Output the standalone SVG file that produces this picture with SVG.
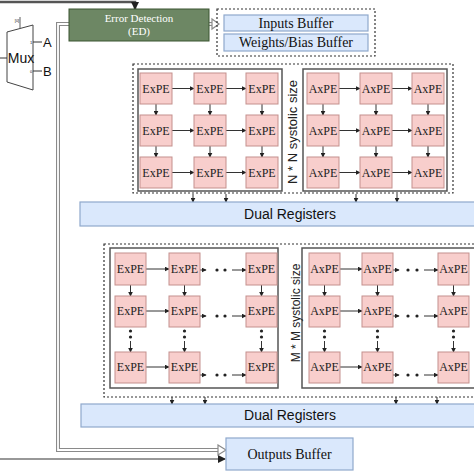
<svg xmlns="http://www.w3.org/2000/svg" width="474" height="474" viewBox="0 0 474 474">
<defs>
<style>
.pe{fill:#f8cecc;stroke:#c4908d;stroke-width:1}
.pet{font-family:"Liberation Serif",serif;font-size:12px;fill:#222;text-anchor:middle}
.buf{fill:#dae8fc;stroke:#8fa8cc;stroke-width:1.2}
.buft{font-family:"Liberation Serif",serif;font-size:14px;fill:#111;text-anchor:middle}
.dr{font-family:"Liberation Sans",sans-serif;font-size:14px;fill:#111;text-anchor:middle}
.dash{fill:none;stroke:#333;stroke-width:1.2;stroke-dasharray:2,2}
.inner{fill:#fff;stroke:#555;stroke-width:1.5}
.ar{fill:none;stroke:#333;stroke-width:1;marker-end:url(#ah)}
.dot{fill:#222}
.dbo{fill:none;stroke:#8a8a8a;stroke-width:4}
.dbi{fill:none;stroke:#fff;stroke-width:1.8}
.rot{font-family:"Liberation Sans",sans-serif;fill:#222;text-anchor:middle}
.sans{font-family:"Liberation Sans",sans-serif;fill:#111}
</style>
<marker id="ah" viewBox="0 0 8 8" refX="7" refY="4" markerWidth="5" markerHeight="5" orient="auto" markerUnits="userSpaceOnUse">
<path d="M0,0 L8,4 L0,8 z" fill="#222"/>
</marker>
<marker id="ahb" viewBox="0 0 8 8" refX="7" refY="4" markerWidth="8" markerHeight="8" orient="auto" markerUnits="userSpaceOnUse">
<path d="M0,0 L8,4 L0,8 z" fill="#222"/>
</marker>
</defs>

<!-- Mux -->
<g id="mux">
<path d="M7,32 L33,25 L33,90 L7,82 Z" fill="#fff" stroke="#444" stroke-width="1"/>
<line x1="0" y1="58" x2="7" y2="58" stroke="#333" stroke-width="1"/>
<line x1="20" y1="17" x2="20" y2="28" stroke="#333" stroke-width="0.8"/>
<text x="17" y="22" class="sans" font-size="4" text-anchor="middle">[0]</text>
<text x="30" y="44" class="sans" font-size="4">1</text>
<text x="30" y="73" class="sans" font-size="4">0</text>
<line x1="33" y1="42" x2="42" y2="42" stroke="#333" stroke-width="1"/>
<line x1="33" y1="71" x2="42" y2="71" stroke="#333" stroke-width="1"/>
<text x="21" y="63" class="sans" font-size="14" text-anchor="middle">Mux</text>
<text x="43" y="47" class="sans" font-size="13">A</text>
<text x="43" y="76" class="sans" font-size="13">B</text>
</g>

<!-- Connectors -->
<g id="connectors">
<path d="M0,2 L135,2 L135,9" fill="none" stroke="#555" stroke-width="2.5" marker-end="url(#ahb)"/>
<path d="M0,459 L225,459" fill="none" stroke="#333" stroke-width="1.2" marker-end="url(#ahb)"/>
<!-- double line ED to outputs -->
<path class="dbo" d="M69,24 L58,24 L58,450 L219,450"/>
<path class="dbi" d="M70,24 L58,24 L58,450 L219,450"/>
<path d="M218,445 L226,450 L218,455 Z" fill="#fff" stroke="#8a8a8a" stroke-width="1.2"/>
<!-- double line ED to buffers -->
<path class="dbo" d="M209,24 L212,24"/>
<path class="dbi" d="M208,24 L213,24"/>
<path d="M212,19 L219,24 L212,29 Z" fill="#fff" stroke="#8a8a8a" stroke-width="1.2"/>
<!-- NxN to dual registers -->
<line class="ar" x1="193" y1="194" x2="193" y2="202"/>
<line class="ar" x1="226" y1="194" x2="226" y2="202"/>
<line class="ar" x1="356" y1="194" x2="356" y2="202"/>
<line class="ar" x1="397" y1="194" x2="397" y2="202"/>
<!-- MxM to dual registers -->
<line class="ar" x1="172" y1="397" x2="172" y2="404"/>
<line class="ar" x1="205" y1="397" x2="205" y2="404"/>
<line class="ar" x1="396" y1="397" x2="396" y2="404"/>
<line class="ar" x1="437" y1="397" x2="437" y2="404"/>
</g>

<!-- Error detection -->
<g id="ed">
<rect x="69" y="9" width="140" height="32" fill="#6d8764" stroke="#3a5431" stroke-width="1"/>
<text x="139" y="22" font-family="Liberation Serif,serif" font-size="11" fill="#fff" text-anchor="middle">Error Detection</text>
<text x="139" y="35" font-family="Liberation Serif,serif" font-size="11" fill="#fff" text-anchor="middle">(ED)</text>
</g>

<!-- Buffers -->
<g id="buffers">
<rect class="dash" x="217" y="9" width="158" height="47"/>
<rect class="buf" x="224" y="15" width="144" height="16"/>
<text class="buft" x="296" y="28">Inputs Buffer</text>
<rect class="buf" x="224" y="34" width="144" height="17"/>
<text class="buft" x="296" y="47">Weights/Bias Buffer</text>
</g>

<!-- NxN systolic -->
<g id="nxn">
<rect class="dash" x="133" y="64" width="320" height="129"/>
<rect class="inner" x="138" y="69" width="144" height="122"/>
<rect class="inner" x="303" y="69" width="144" height="122"/>
<text class="rot" font-size="13" transform="translate(297,132) rotate(-90)">N * N systolic size</text>
<!-- ExPE arrows -->
<line class="ar" x1="172" y1="88.5" x2="194" y2="88.5"/>
<line class="ar" x1="226" y1="88.5" x2="246" y2="88.5"/>
<line class="ar" x1="172" y1="130.5" x2="194" y2="130.5"/>
<line class="ar" x1="226" y1="130.5" x2="246" y2="130.5"/>
<line class="ar" x1="172" y1="172.5" x2="194" y2="172.5"/>
<line class="ar" x1="226" y1="172.5" x2="246" y2="172.5"/>
<line class="ar" x1="156" y1="104" x2="156" y2="115"/>
<line class="ar" x1="210" y1="104" x2="210" y2="115"/>
<line class="ar" x1="262" y1="104" x2="262" y2="115"/>
<line class="ar" x1="156" y1="146" x2="156" y2="157"/>
<line class="ar" x1="210" y1="146" x2="210" y2="157"/>
<line class="ar" x1="262" y1="146" x2="262" y2="157"/>
<!-- AxPE arrows -->
<line class="ar" x1="339" y1="88.5" x2="360" y2="88.5"/>
<line class="ar" x1="392" y1="88.5" x2="412" y2="88.5"/>
<line class="ar" x1="339" y1="130.5" x2="360" y2="130.5"/>
<line class="ar" x1="392" y1="130.5" x2="412" y2="130.5"/>
<line class="ar" x1="339" y1="172.5" x2="360" y2="172.5"/>
<line class="ar" x1="392" y1="172.5" x2="412" y2="172.5"/>
<line class="ar" x1="323" y1="104" x2="323" y2="115"/>
<line class="ar" x1="376" y1="104" x2="376" y2="115"/>
<line class="ar" x1="428" y1="104" x2="428" y2="115"/>
<line class="ar" x1="323" y1="146" x2="323" y2="157"/>
<line class="ar" x1="376" y1="146" x2="376" y2="157"/>
<line class="ar" x1="428" y1="146" x2="428" y2="157"/>
</g>
<g id="nxn-expe">
<rect class="pe" x="140" y="73" width="32" height="31"/><text class="pet" x="156" y="93">ExPE</text>
<rect class="pe" x="194" y="73" width="32" height="31"/><text class="pet" x="210" y="93">ExPE</text>
<rect class="pe" x="246" y="73" width="32" height="31"/><text class="pet" x="262" y="93">ExPE</text>
<rect class="pe" x="140" y="115" width="32" height="31"/><text class="pet" x="156" y="135">ExPE</text>
<rect class="pe" x="194" y="115" width="32" height="31"/><text class="pet" x="210" y="135">ExPE</text>
<rect class="pe" x="246" y="115" width="32" height="31"/><text class="pet" x="262" y="135">ExPE</text>
<rect class="pe" x="140" y="157" width="32" height="31"/><text class="pet" x="156" y="177">ExPE</text>
<rect class="pe" x="194" y="157" width="32" height="31"/><text class="pet" x="210" y="177">ExPE</text>
<rect class="pe" x="246" y="157" width="32" height="31"/><text class="pet" x="262" y="177">ExPE</text>
</g>
<g id="nxn-axpe">
<rect class="pe" x="307" y="73" width="32" height="31"/><text class="pet" x="323" y="93">AxPE</text>
<rect class="pe" x="360" y="73" width="32" height="31"/><text class="pet" x="376" y="93">AxPE</text>
<rect class="pe" x="412" y="73" width="32" height="31"/><text class="pet" x="428" y="93">AxPE</text>
<rect class="pe" x="307" y="115" width="32" height="31"/><text class="pet" x="323" y="135">AxPE</text>
<rect class="pe" x="360" y="115" width="32" height="31"/><text class="pet" x="376" y="135">AxPE</text>
<rect class="pe" x="412" y="115" width="32" height="31"/><text class="pet" x="428" y="135">AxPE</text>
<rect class="pe" x="307" y="157" width="32" height="31"/><text class="pet" x="323" y="177">AxPE</text>
<rect class="pe" x="360" y="157" width="32" height="31"/><text class="pet" x="376" y="177">AxPE</text>
<rect class="pe" x="412" y="157" width="32" height="31"/><text class="pet" x="428" y="177">AxPE</text>
</g>

<g id="dual-registers-1">
<rect class="buf" x="80" y="202" width="400" height="24"/>
<text class="dr" x="290" y="219">Dual Registers</text>
</g>

<!-- MxM systolic -->
<g id="mxm">
<rect class="dash" x="104" y="244" width="376" height="153"/>
<rect class="inner" x="110" y="248" width="168" height="140"/>
<rect class="inner" x="302" y="248" width="180" height="140"/>
<text class="rot" font-size="12" transform="translate(300,313) rotate(-90)">M * M systolic size</text>
<!-- ExPE arrows -->
<line class="ar" x1="146" y1="269" x2="169" y2="269"/>
<line class="ar" x1="200" y1="270" x2="206" y2="270"/>
<circle class="dot" cx="217" cy="270" r="1.6"/><circle class="dot" cx="225" cy="270" r="1.6"/>
<line class="ar" x1="232" y1="270" x2="246" y2="270"/>
<line class="ar" x1="146" y1="311" x2="169" y2="311"/>
<line class="ar" x1="200" y1="316" x2="206" y2="316"/>
<circle class="dot" cx="217" cy="316" r="1.6"/><circle class="dot" cx="225" cy="316" r="1.6"/>
<line class="ar" x1="232" y1="316" x2="246" y2="316"/>
<line class="ar" x1="146" y1="367" x2="169" y2="367"/>
<line class="ar" x1="200" y1="375" x2="206" y2="375"/>
<circle class="dot" cx="217" cy="375" r="1.6"/><circle class="dot" cx="225" cy="375" r="1.6"/>
<line class="ar" x1="232" y1="375" x2="246" y2="375"/>
<line class="ar" x1="130.5" y1="285" x2="130.5" y2="296"/>
<line class="ar" x1="184.5" y1="285" x2="184.5" y2="296"/>
<line class="ar" x1="261.5" y1="285" x2="261.5" y2="296"/>
<circle class="dot" cx="130.5" cy="331" r="1.6"/><circle class="dot" cx="130.5" cy="337" r="1.6"/>
<line class="ar" x1="130.5" y1="341" x2="130.5" y2="352"/>
<circle class="dot" cx="184.5" cy="331" r="1.6"/><circle class="dot" cx="184.5" cy="337" r="1.6"/>
<line class="ar" x1="184.5" y1="341" x2="184.5" y2="352"/>
<circle class="dot" cx="261.5" cy="331" r="1.6"/><circle class="dot" cx="261.5" cy="337" r="1.6"/>
<line class="ar" x1="261.5" y1="341" x2="261.5" y2="352"/>
<!-- AxPE arrows -->
<line class="ar" x1="340" y1="269" x2="362" y2="269"/>
<line class="ar" x1="393" y1="270" x2="399" y2="270"/>
<circle class="dot" cx="408" cy="270" r="1.6"/><circle class="dot" cx="417" cy="270" r="1.6"/>
<line class="ar" x1="424" y1="270" x2="438" y2="270"/>
<line class="ar" x1="340" y1="311" x2="362" y2="311"/>
<line class="ar" x1="393" y1="316" x2="399" y2="316"/>
<circle class="dot" cx="408" cy="316" r="1.6"/><circle class="dot" cx="417" cy="316" r="1.6"/>
<line class="ar" x1="424" y1="316" x2="438" y2="316"/>
<line class="ar" x1="340" y1="367" x2="362" y2="367"/>
<line class="ar" x1="393" y1="375" x2="399" y2="375"/>
<circle class="dot" cx="408" cy="375" r="1.6"/><circle class="dot" cx="417" cy="375" r="1.6"/>
<line class="ar" x1="424" y1="375" x2="438" y2="375"/>
<line class="ar" x1="324.5" y1="285" x2="324.5" y2="296"/>
<line class="ar" x1="377.5" y1="285" x2="377.5" y2="296"/>
<line class="ar" x1="453.5" y1="285" x2="453.5" y2="296"/>
<circle class="dot" cx="324.5" cy="331" r="1.6"/><circle class="dot" cx="324.5" cy="337" r="1.6"/>
<line class="ar" x1="324.5" y1="341" x2="324.5" y2="352"/>
<circle class="dot" cx="377.5" cy="331" r="1.6"/><circle class="dot" cx="377.5" cy="337" r="1.6"/>
<line class="ar" x1="377.5" y1="341" x2="377.5" y2="352"/>
<circle class="dot" cx="453.5" cy="331" r="1.6"/><circle class="dot" cx="453.5" cy="337" r="1.6"/>
<line class="ar" x1="453.5" y1="341" x2="453.5" y2="352"/>
</g>
<g id="mxm-expe">
<rect class="pe" x="115" y="253" width="31" height="32"/><text class="pet" x="130.5" y="273">ExPE</text>
<rect class="pe" x="169" y="253" width="31" height="32"/><text class="pet" x="184.5" y="273">ExPE</text>
<rect class="pe" x="246" y="253" width="31" height="32"/><text class="pet" x="261.5" y="273">ExPE</text>
<rect class="pe" x="115" y="296" width="31" height="31"/><text class="pet" x="130.5" y="315">ExPE</text>
<rect class="pe" x="169" y="296" width="31" height="31"/><text class="pet" x="184.5" y="315">ExPE</text>
<rect class="pe" x="246" y="296" width="31" height="31"/><text class="pet" x="261.5" y="315">ExPE</text>
<rect class="pe" x="115" y="352" width="31" height="31"/><text class="pet" x="130.5" y="371">ExPE</text>
<rect class="pe" x="169" y="352" width="31" height="31"/><text class="pet" x="184.5" y="371">ExPE</text>
<rect class="pe" x="246" y="352" width="31" height="31"/><text class="pet" x="261.5" y="371">ExPE</text>
</g>
<g id="mxm-axpe">
<rect class="pe" x="309" y="253" width="31" height="32"/><text class="pet" x="324.5" y="273">AxPE</text>
<rect class="pe" x="362" y="253" width="31" height="32"/><text class="pet" x="377.5" y="273">AxPE</text>
<rect class="pe" x="438" y="253" width="31" height="32"/><text class="pet" x="453.5" y="273">AxPE</text>
<rect class="pe" x="309" y="296" width="31" height="31"/><text class="pet" x="324.5" y="315">AxPE</text>
<rect class="pe" x="362" y="296" width="31" height="31"/><text class="pet" x="377.5" y="315">AxPE</text>
<rect class="pe" x="438" y="296" width="31" height="31"/><text class="pet" x="453.5" y="315">AxPE</text>
<rect class="pe" x="309" y="352" width="31" height="31"/><text class="pet" x="324.5" y="371">AxPE</text>
<rect class="pe" x="362" y="352" width="31" height="31"/><text class="pet" x="377.5" y="371">AxPE</text>
<rect class="pe" x="438" y="352" width="31" height="31"/><text class="pet" x="453.5" y="371">AxPE</text>
</g>

<g id="dual-registers-2">
<rect class="buf" x="81" y="404" width="400" height="23"/>
<text class="dr" x="290" y="420">Dual Registers</text>
</g>

<g id="outputs-buffer">
<rect class="buf" x="226" y="438" width="127" height="32"/>
<text class="buft" x="289.5" y="459">Outputs Buffer</text>
</g>
</svg>
